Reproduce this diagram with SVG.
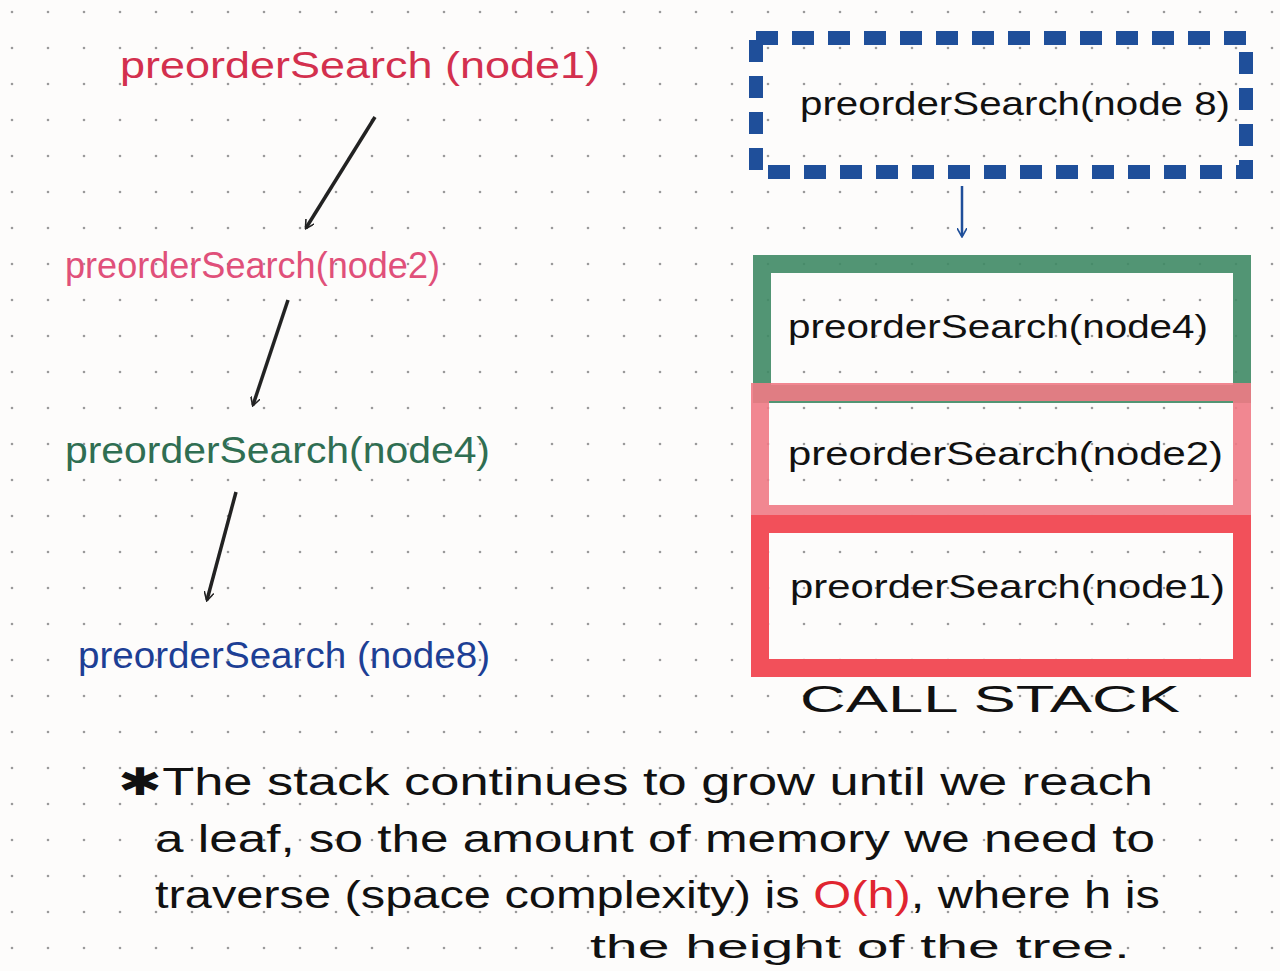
<svg xmlns="http://www.w3.org/2000/svg" width="1280" height="971" viewBox="0 0 1280 971">
<defs>
<pattern id="dots" width="36" height="36" patternUnits="userSpaceOnUse" x="10" y="10"><circle cx="2" cy="2" r="1.3" fill="#9a9a9a"/></pattern>
<marker id="ah" markerWidth="10" markerHeight="10" refX="8" refY="5" orient="auto" markerUnits="userSpaceOnUse" viewBox="0 0 10 10"><path d="M0,0 L9,5 L0,10" fill="none" stroke="#222" stroke-width="1.6"/></marker>
<marker id="ahb" markerWidth="10" markerHeight="10" refX="8" refY="5" orient="auto" markerUnits="userSpaceOnUse" viewBox="0 0 10 10"><path d="M0,0 L9,5 L0,10" fill="none" stroke="#1f4f9a" stroke-width="1.6"/></marker>
</defs>
<style>
.t{font-family:"Liberation Sans",Arial,sans-serif;font-size:36px}
.s{font-family:"Liberation Sans",Arial,sans-serif;font-size:34px;fill:#111}
.n{font-family:"Liberation Sans",Arial,sans-serif;font-size:38px;fill:#111}
</style>
<rect width="1280" height="971" fill="#fdfcfb"/>
<rect width="1280" height="971" fill="url(#dots)"/>
<g id="connectors" stroke-width="3.5" fill="none">
<line x1="375" y1="117" x2="306" y2="228" stroke="#222" marker-end="url(#ah)"/>
<line x1="288" y1="300" x2="253" y2="405" stroke="#222" marker-end="url(#ah)"/>
<line x1="236" y1="492" x2="207" y2="600" stroke="#222" marker-end="url(#ah)"/>
<line x1="962" y1="186" x2="962" y2="236" stroke="#1f4f9a" stroke-width="2.5" marker-end="url(#ahb)"/>
</g>
<g id="n1"><text class="t" x="120" y="78" fill="#d3304e" textLength="480" lengthAdjust="spacingAndGlyphs">preorderSearch (node1)</text></g>
<g id="n2"><text class="t" x="65" y="278" fill="#e0507a" textLength="375" lengthAdjust="spacingAndGlyphs">preorderSearch(node2)</text></g>
<g id="n4"><text class="t" x="65" y="463" fill="#2f6e52" textLength="425" lengthAdjust="spacingAndGlyphs">preorderSearch(node4)</text></g>
<g id="n8"><text class="t" x="78" y="668" fill="#1d3f95" textLength="412" lengthAdjust="spacingAndGlyphs">preorderSearch (node8)</text></g>
<g id="s8"><rect x="756" y="38" width="490" height="134" fill="none" stroke="#1f4f9a" stroke-width="14" stroke-dasharray="22,14"/>
<text class="s" x="800" y="115" textLength="430" lengthAdjust="spacingAndGlyphs">preorderSearch(node 8)</text></g>
<g id="s4"><rect x="762" y="264" width="480" height="130" fill="none" stroke="#3f8a65" stroke-width="18" opacity="0.9"/>
<text class="s" x="788" y="338" textLength="420" lengthAdjust="spacingAndGlyphs">preorderSearch(node4)</text></g>
<g id="s2"><rect x="760" y="392" width="482" height="122" fill="none" stroke="#f07a85" stroke-width="18" opacity="0.9"/>
<text class="s" x="788" y="465" textLength="435" lengthAdjust="spacingAndGlyphs">preorderSearch(node2)</text></g>
<g id="s1"><rect x="760" y="524" width="482" height="144" fill="none" stroke="#f2505a" stroke-width="18"/>
<text class="s" x="790" y="598" textLength="435" lengthAdjust="spacingAndGlyphs">preorderSearch(node1)</text></g>
<text class="n" x="800" y="712" textLength="380" lengthAdjust="spacingAndGlyphs" style="font-size:36px">CALL STACK</text>
<text class="n" x="118" y="795" textLength="1035" lengthAdjust="spacingAndGlyphs">✱The stack continues to grow until we reach</text>
<text class="n" x="155" y="852" textLength="1000" lengthAdjust="spacingAndGlyphs">a leaf, so the amount of memory we need to</text>
<text class="n" x="155" y="908" textLength="1005" lengthAdjust="spacingAndGlyphs">traverse (space complexity) is <tspan fill="#e02530">O(h)</tspan>, where h is</text>
<text class="n" x="590" y="958" textLength="540" lengthAdjust="spacingAndGlyphs" style="font-size:34px">the height of the tree.</text>
</svg>
